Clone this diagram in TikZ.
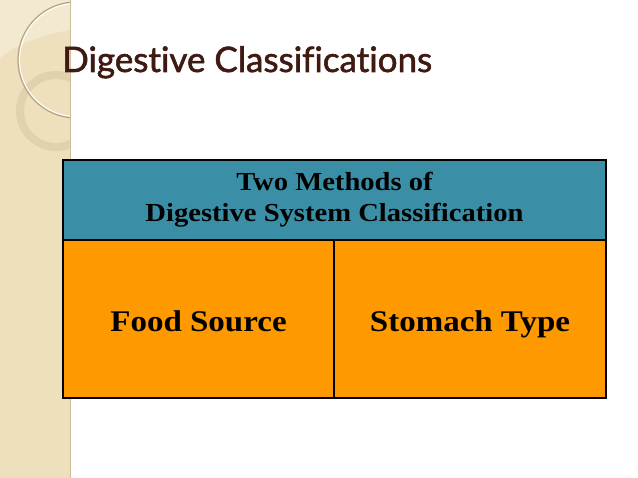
\documentclass[tikz,border=0pt]{standalone}
\usepackage{fontspec}
\setmainfont{Liberation Serif}
\newfontfamily\cellfont[FakeStretch=1.1]{Liberation Serif}
\newfontfamily\titlefont[FakeBold=1.6,Ligatures=NoCommon]{Lato}
\usetikzlibrary{positioning}

\definecolor{stripbeige}{HTML}{EEE0BD}
\definecolor{stripedge}{HTML}{CDBE9A}
\definecolor{ringtone}{HTML}{E0D2AE}
\definecolor{arcline}{HTML}{B5A585}
\definecolor{titlebrown}{HTML}{3E1A12}
\definecolor{headteal}{HTML}{3A8FA7}
\definecolor{cellorange}{HTML}{FF9900}

\begin{document}
\begin{tikzpicture}[x=1pt,y=-1pt,
    headbox/.style={draw=black,line width=1.2pt,fill=headteal,minimum width=543pt,minimum height=80pt,
        align=center,font=\cellfont\bfseries\fontsize{26}{31}\selectfont},
    cellbox/.style={draw=black,line width=1.2pt,fill=cellorange,minimum height=158pt,
        text height=26pt,text depth=0pt,font=\cellfont\bfseries\fontsize{30}{32}\selectfont}]
    \useasboundingbox (0,0) rectangle (638,478);
    \fill[white] (0,0) rectangle (638,478);
    % side strip
    \fill[stripbeige] (0,0) rectangle (70,478);
    \begin{scope}
        \clip (0,0) rectangle (70,478);
        \fill[white,opacity=0.3] (0,0) -- (70,0) -- (70,30) .. controls (40,35) and (15,45) .. (0,58) -- cycle;
        \draw[ringtone,line width=8pt] (56,111) circle (36);
        \draw[white,line width=1pt] (76,60) circle (56.5);
        \draw[arcline,line width=1.2pt] (76,60) circle (58);
    \end{scope}
    \draw[stripedge,line width=1pt] (70,0) -- (70,478);
    % title
    \node[anchor=base west,inner sep=0pt,text=titlebrown,font=\titlefont\fontsize{35}{40}\selectfont] (title) at (62,72) {Digestive Classifications};
    % table
    \node[headbox] (head) at (334.5,200) {Two Methods of\\Digestive System Classification};
    \node[cellbox,minimum width=271pt] (food) at (198.5,319) {Food Source};
    \node[cellbox,minimum width=272pt] (stomach) at (470,319) {Stomach Type};
\end{tikzpicture}
\end{document}
